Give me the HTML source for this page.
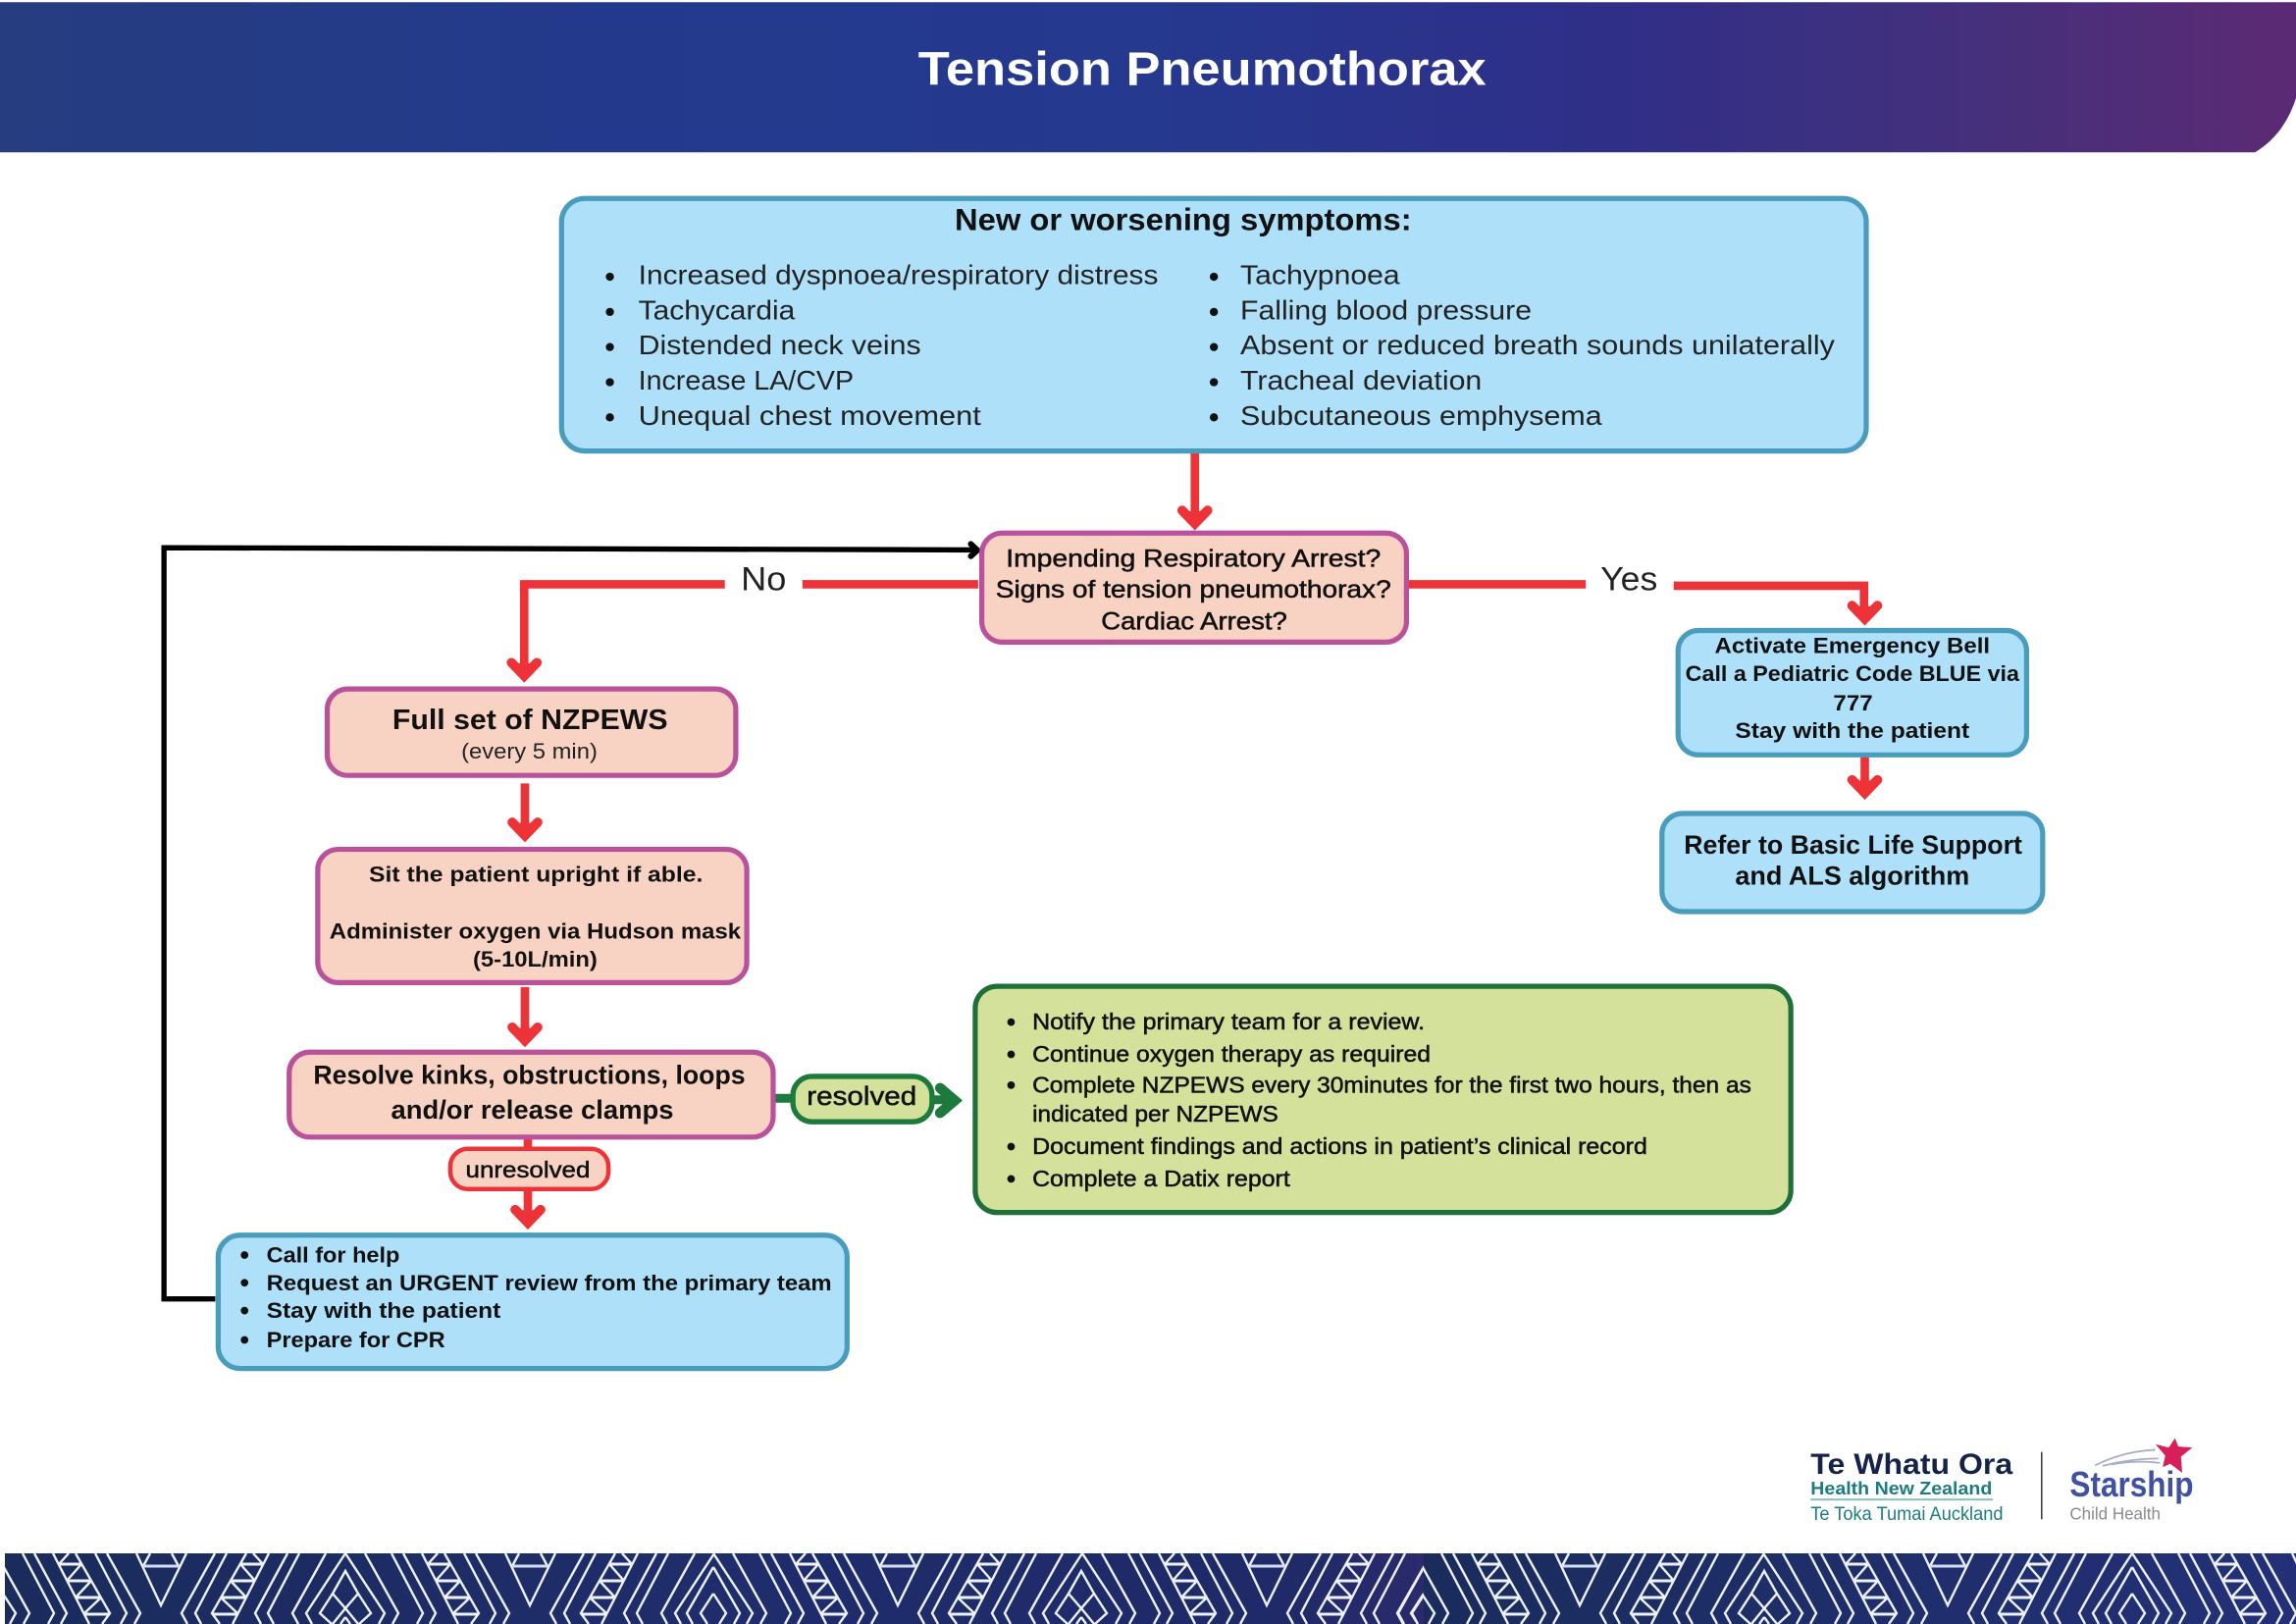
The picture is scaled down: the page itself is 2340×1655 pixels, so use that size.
<!DOCTYPE html>
<html lang="en"><head><meta charset="utf-8"><title>Tension Pneumothorax</title>
<style>
html,body{margin:0;padding:0;background:#fff}
svg{display:block}
text{font-family:"Liberation Sans",sans-serif;fill:#111}
.b{font-weight:700}
.m{stroke:#111;stroke-width:.35}
.l{fill:#222}
.blue{fill:#aee0f9;stroke:#4a9cbd;stroke-width:3.5}
.peach{fill:#f8d3c3;stroke:#b9519b;stroke-width:3.5}
.red{fill:none;stroke:#ee3338;stroke-width:5.8}
.pt{fill:none;stroke:#eef1f9;stroke-width:2.4}
</style></head><body>
<svg xmlns="http://www.w3.org/2000/svg" width="2340" height="1655" viewBox="0 0 2340 1655">
<defs>
<linearGradient id="hd" x1="0" x2="1" y1="0" y2="0">
<stop offset="0" stop-color="#263d80"/><stop offset=".25" stop-color="#233a8c"/><stop offset=".5" stop-color="#25398f"/><stop offset=".7" stop-color="#2f2f88"/><stop offset=".85" stop-color="#43307c"/><stop offset="1" stop-color="#5c2a74"/>
</linearGradient>
<linearGradient id="f1" x1="0" x2="1" y1="0" y2="0"><stop offset="0" stop-color="#1a2c5c"/><stop offset=".5" stop-color="#1f2d6c"/><stop offset=".9" stop-color="#1f2a68"/><stop offset="1" stop-color="#2a2a6c"/></linearGradient>
<linearGradient id="f2" x1="0" x2="1" y1="0" y2="0"><stop offset="0" stop-color="#1a2c5c"/><stop offset="1" stop-color="#233078"/></linearGradient>
<clipPath id="c1"><rect x="5" y="1583" width="1446" height="72"/></clipPath>
<clipPath id="c2"><rect x="1451" y="1583" width="889" height="72"/></clipPath>
<g id="half" class="pt">
<path d="M55,0L21,61L27,72M67,0L35,61L41,72"/>
<path d="M87,0L52,61L60,72M110,0L73,72"/>
<path d="M81,11H104M71,28H96M61,45H87M52,62H79" stroke-width="3"/>
<path d="M81,11L96,28M71,28L87,45M61,45L79,62M94,0L104,11"/>
<path d="M129,0L96,61L102,72M141,0L109,61L115,72"/>
<path d="M168,0L134,61L140,72M188,0L148,61L154,72"/>
</g>
<g id="unit">
<g class="pt"><path d="M-25,0L0,53L26,0M-11,0L-18,13M11,0L18,13"/><path d="M-18,13H18" stroke-width="3" stroke="#d4ddf3"/></g>
<use href="#half"/><use href="#half" transform="scale(-1,1)"/>
</g>
<g id="dA" class="pt"><path d="M0,18L13,41L0,56L-13,41Z"/><path d="M-13,41L-26,61L-14,72M13,41L26,61L14,72M0,56L-13,72M0,56L13,72M0,65L-5,72M0,65L5,72"/></g>
<g id="dB" class="pt"><path d="M0,14L-27,61L-21,72M0,14L27,61L21,72M0,41L-13,61L-6,72M0,41L13,61L6,72"/></g>
<g id="h"><path d="M-8.7,-13.5L0,-4.5L8.7,-13.5" fill="none" stroke="#ee3338" stroke-width="6.5" stroke-linecap="round" stroke-miterlimit="10"/><path d="M-7,-13H7L0,-2Z" fill="#ee3338"/></g>
</defs>

<rect width="2340" height="1655" fill="#fff"/>

<!-- footer band (real pixels) -->
<g clip-path="url(#c1)">
<rect x="5" y="1583" width="1446" height="72" fill="url(#f1)"/>
<g transform="translate(0,1583)">
<use href="#unit" x="164"/><use href="#unit" x="540"/><use href="#unit" x="915"/><use href="#unit" x="1291"/>
<use href="#dA" x="352"/><use href="#dB" x="727"/><use href="#dA" x="1102"/><use href="#dB" x="1451"/>
</g>
</g>
<g clip-path="url(#c2)">
<rect x="1451" y="1583" width="889" height="72" fill="url(#f2)"/>
<g transform="translate(0,1583)">
<use href="#unit" x="1610"/><use href="#unit" x="1985"/><use href="#unit" x="2361"/>
<use href="#dA" x="1798"/><use href="#dB" x="2173"/>
</g>
</g>

<g transform="scale(1.49235)">
<!-- header -->
<path d="M0,1.5H1568V67Q1560,92 1540,104H0Z" fill="url(#hd)"/>
<text x="627" y="58" font-size="32" class="b" style="fill:#fff" textLength="388" lengthAdjust="spacingAndGlyphs">Tension Pneumothorax</text>

<!-- connectors -->
<path class="red" d="M816,309V350"/><use href="#h" x="816" y="362"/>
<path class="red" d="M668,399H548M495,399H358V455"/><use href="#h" x="358" y="466"/>
<path class="red" d="M961,399H1083M1143,400H1273V415"/><use href="#h" x="1273.5" y="427"/>
<path class="red" d="M1273.5,517V534"/><use href="#h" x="1273.5" y="546"/>
<path class="red" d="M358.5,535V563"/><use href="#h" x="358.5" y="575"/>
<path class="red" d="M358.5,674V703"/><use href="#h" x="358.5" y="715"/>
<path class="red" d="M360.5,778V786M360.5,813V828"/><use href="#h" x="360.5" y="839.5"/>
<path d="M147,887H112V374L666,375.5" fill="none" stroke="#000" stroke-width="3.6"/>
<path d="M663,371.5L667.5,375.7L663,379.8" fill="none" stroke="#000" stroke-width="4" stroke-linecap="round"/>
<path d="M529,750H541" stroke="#1c7a3d" stroke-width="6" fill="none"/>
<path d="M637,751H648" stroke="#1c7a3d" stroke-width="6" fill="none"/>
<path d="M642,743L652,751.5L642,760" fill="none" stroke="#1c7a3d" stroke-width="7" stroke-linecap="round"/>

<!-- symptoms -->
<rect class="blue" x="383.5" y="135.5" width="891" height="172.5" rx="16"/>
<text x="652" y="157" font-size="21" class="b" textLength="312" lengthAdjust="spacingAndGlyphs">New or worsening symptoms:</text>
<g font-size="18.5" class="l">
<text class="l" x="436" y="194" textLength="355" lengthAdjust="spacingAndGlyphs">Increased dyspnoea/respiratory distress</text>
<text class="l" x="436" y="218" textLength="107" lengthAdjust="spacingAndGlyphs">Tachycardia</text>
<text class="l" x="436" y="242" textLength="193" lengthAdjust="spacingAndGlyphs">Distended neck veins</text>
<text class="l" x="436" y="266" textLength="147" lengthAdjust="spacingAndGlyphs">Increase LA/CVP</text>
<text class="l" x="436" y="290" textLength="234" lengthAdjust="spacingAndGlyphs">Unequal chest movement</text>
<text class="l" x="847" y="194" textLength="109" lengthAdjust="spacingAndGlyphs">Tachypnoea</text>
<text class="l" x="847" y="218" textLength="199" lengthAdjust="spacingAndGlyphs">Falling blood pressure</text>
<text class="l" x="847" y="242" textLength="406" lengthAdjust="spacingAndGlyphs">Absent or reduced breath sounds unilaterally</text>
<text class="l" x="847" y="266" textLength="165" lengthAdjust="spacingAndGlyphs">Tracheal deviation</text>
<text class="l" x="847" y="290" textLength="247" lengthAdjust="spacingAndGlyphs">Subcutaneous emphysema</text>
</g>
<g fill="#111"><circle cx="416.5" cy="189" r="2.8"/><circle cx="416.5" cy="213" r="2.8"/><circle cx="416.5" cy="237" r="2.8"/><circle cx="416.5" cy="261" r="2.8"/><circle cx="416.5" cy="285" r="2.8"/>
<circle cx="829" cy="189" r="2.8"/><circle cx="829" cy="213" r="2.8"/><circle cx="829" cy="237" r="2.8"/><circle cx="829" cy="261" r="2.8"/><circle cx="829" cy="285" r="2.8"/></g>

<!-- decision -->
<rect class="peach" x="670.5" y="364" width="290" height="74.5" rx="14"/>
<g font-size="16.5">
<text class="m" x="687" y="387" textLength="256" lengthAdjust="spacingAndGlyphs">Impending Respiratory Arrest?</text>
<text class="m" x="680" y="408" textLength="270" lengthAdjust="spacingAndGlyphs">Signs of tension pneumothorax?</text>
<text class="m" x="752" y="430" textLength="127" lengthAdjust="spacingAndGlyphs">Cardiac Arrest?</text>
</g>
<text class="l" x="506" y="403" font-size="23" textLength="31" lengthAdjust="spacingAndGlyphs">No</text>
<text class="l" x="1093" y="403" font-size="23" textLength="39" lengthAdjust="spacingAndGlyphs">Yes</text>

<!-- right column -->
<rect class="blue" x="1146" y="430.5" width="238" height="85" rx="14"/>
<g font-size="15" class="b">
<text x="1171" y="446" textLength="188" lengthAdjust="spacingAndGlyphs">Activate Emergency Bell</text>
<text x="1151" y="465" textLength="228" lengthAdjust="spacingAndGlyphs">Call a Pediatric Code BLUE via</text>
<text x="1252" y="485" textLength="27" lengthAdjust="spacingAndGlyphs">777</text>
<text x="1185" y="504" textLength="160" lengthAdjust="spacingAndGlyphs">Stay with the patient</text>
</g>
<rect class="blue" x="1135" y="555.5" width="260" height="67" rx="14"/>
<g font-size="18" class="b">
<text x="1150" y="583" textLength="231" lengthAdjust="spacingAndGlyphs">Refer to Basic Life Support</text>
<text x="1185" y="604" textLength="160" lengthAdjust="spacingAndGlyphs">and ALS algorithm</text>
</g>

<!-- left column -->
<rect class="peach" x="223.5" y="470.5" width="279" height="59" rx="14"/>
<text x="268" y="498" font-size="19.5" class="b" textLength="188" lengthAdjust="spacingAndGlyphs">Full set of NZPEWS</text>
<text class="l" x="315" y="518" font-size="15" textLength="93" lengthAdjust="spacingAndGlyphs">(every 5 min)</text>

<rect class="peach" x="217" y="580" width="293" height="91" rx="14"/>
<g font-size="15" class="b">
<text x="252" y="602" textLength="228" lengthAdjust="spacingAndGlyphs">Sit the patient upright if able.</text>
<text x="225" y="641" textLength="281" lengthAdjust="spacingAndGlyphs">Administer oxygen via Hudson mask</text>
<text x="323" y="660" textLength="85" lengthAdjust="spacingAndGlyphs">(5-10L/min)</text>
</g>

<rect class="peach" x="197.5" y="718.5" width="330.5" height="58" rx="14"/>
<g font-size="18" class="b">
<text x="214" y="740" textLength="295" lengthAdjust="spacingAndGlyphs">Resolve kinks, obstructions, loops</text>
<text x="267" y="764" textLength="193" lengthAdjust="spacingAndGlyphs">and/or release clamps</text>
</g>

<rect x="541.5" y="735" width="95" height="31" rx="13" fill="#d3e19b" stroke="#1c7a3d" stroke-width="3.6"/>
<text class="m" x="551" y="754.5" font-size="18" textLength="75" lengthAdjust="spacingAndGlyphs">resolved</text>

<rect x="307.5" y="784.5" width="108" height="27.5" rx="12" fill="#f8d3c3" stroke="#ee3338" stroke-width="3"/>
<text class="m" x="318" y="804" font-size="15.5" textLength="85" lengthAdjust="spacingAndGlyphs">unresolved</text>

<rect class="blue" x="149" y="843.5" width="429.5" height="91" rx="15"/>
<g font-size="15" class="b">
<text x="182" y="862" textLength="91" lengthAdjust="spacingAndGlyphs">Call for help</text>
<text x="182" y="881" textLength="386" lengthAdjust="spacingAndGlyphs">Request an URGENT review from the primary team</text>
<text x="182" y="900" textLength="160" lengthAdjust="spacingAndGlyphs">Stay with the patient</text>
<text x="182" y="920" textLength="122" lengthAdjust="spacingAndGlyphs">Prepare for CPR</text>
</g>
<g fill="#111"><circle cx="167" cy="857" r="2.6"/><circle cx="167" cy="876" r="2.6"/><circle cx="167" cy="895" r="2.6"/><circle cx="167" cy="915" r="2.6"/></g>

<!-- green -->
<rect x="666" y="673.5" width="557" height="154.5" rx="15" fill="#d3e19b" stroke="#1f6f3a" stroke-width="3.5"/>
<g font-size="15.5">
<text class="m" x="705" y="703" textLength="268" lengthAdjust="spacingAndGlyphs">Notify the primary team for a review.</text>
<text class="m" x="705" y="725" textLength="272" lengthAdjust="spacingAndGlyphs">Continue oxygen therapy as required</text>
<text class="m" x="705" y="746" textLength="491" lengthAdjust="spacingAndGlyphs">Complete NZPEWS every 30minutes for the first two hours, then as</text>
<text class="m" x="705" y="766" textLength="168" lengthAdjust="spacingAndGlyphs">indicated per NZPEWS</text>
<text class="m" x="705" y="788" textLength="420" lengthAdjust="spacingAndGlyphs">Document findings and actions in patient’s clinical record</text>
<text class="m" x="705" y="810" textLength="176" lengthAdjust="spacingAndGlyphs">Complete a Datix report</text>
</g>
<g fill="#111"><circle cx="690.5" cy="698" r="2.6"/><circle cx="690.5" cy="720" r="2.6"/><circle cx="690.5" cy="741" r="2.6"/><circle cx="690.5" cy="783" r="2.6"/><circle cx="690.5" cy="805" r="2.6"/></g>

<!-- logos -->
<text x="1236.5" y="1006.3" font-size="20" class="b" style="fill:#15234b" textLength="138" lengthAdjust="spacingAndGlyphs">Te Whatu Ora</text>
<text x="1236.5" y="1020.5" font-size="12.5" class="b" style="fill:#1c7c82" textLength="124" lengthAdjust="spacingAndGlyphs">Health New Zealand</text>
<path d="M1236.5,1024H1361" stroke="#82bcbc" stroke-width="1.3"/>
<text x="1236.5" y="1038" font-size="13" style="fill:#1c7c82" textLength="131.5" lengthAdjust="spacingAndGlyphs">Te Toka Tumai Auckland</text>
<path d="M1394.3,991.5V1037.5" stroke="#333" stroke-width="1"/>
<path d="M1430.7,1000.7Q1450,991 1472,990M1436,1001Q1455,996 1474,996M1442,1000Q1458,997 1475,999" fill="none" stroke="#a9aec6" stroke-width="1.2"/>
<polygon points="1485.4,982.2 1487.6,987.8 1497.2,988.5 1489.4,994.7 1490.3,1005.7 1482.1,999.6 1477,1001.9 1478.7,994 1472,986.2 1481,988.5" fill="#d81f5c"/>
<text x="1413.5" y="1022" font-size="24" class="b" style="fill:#3f51a0" textLength="84.5" lengthAdjust="spacingAndGlyphs">Starship</text>
<text x="1413.5" y="1037.5" font-size="12" style="fill:#8a8a8a" textLength="62" lengthAdjust="spacingAndGlyphs">Child Health</text>
</g>
</svg>
</body></html>
